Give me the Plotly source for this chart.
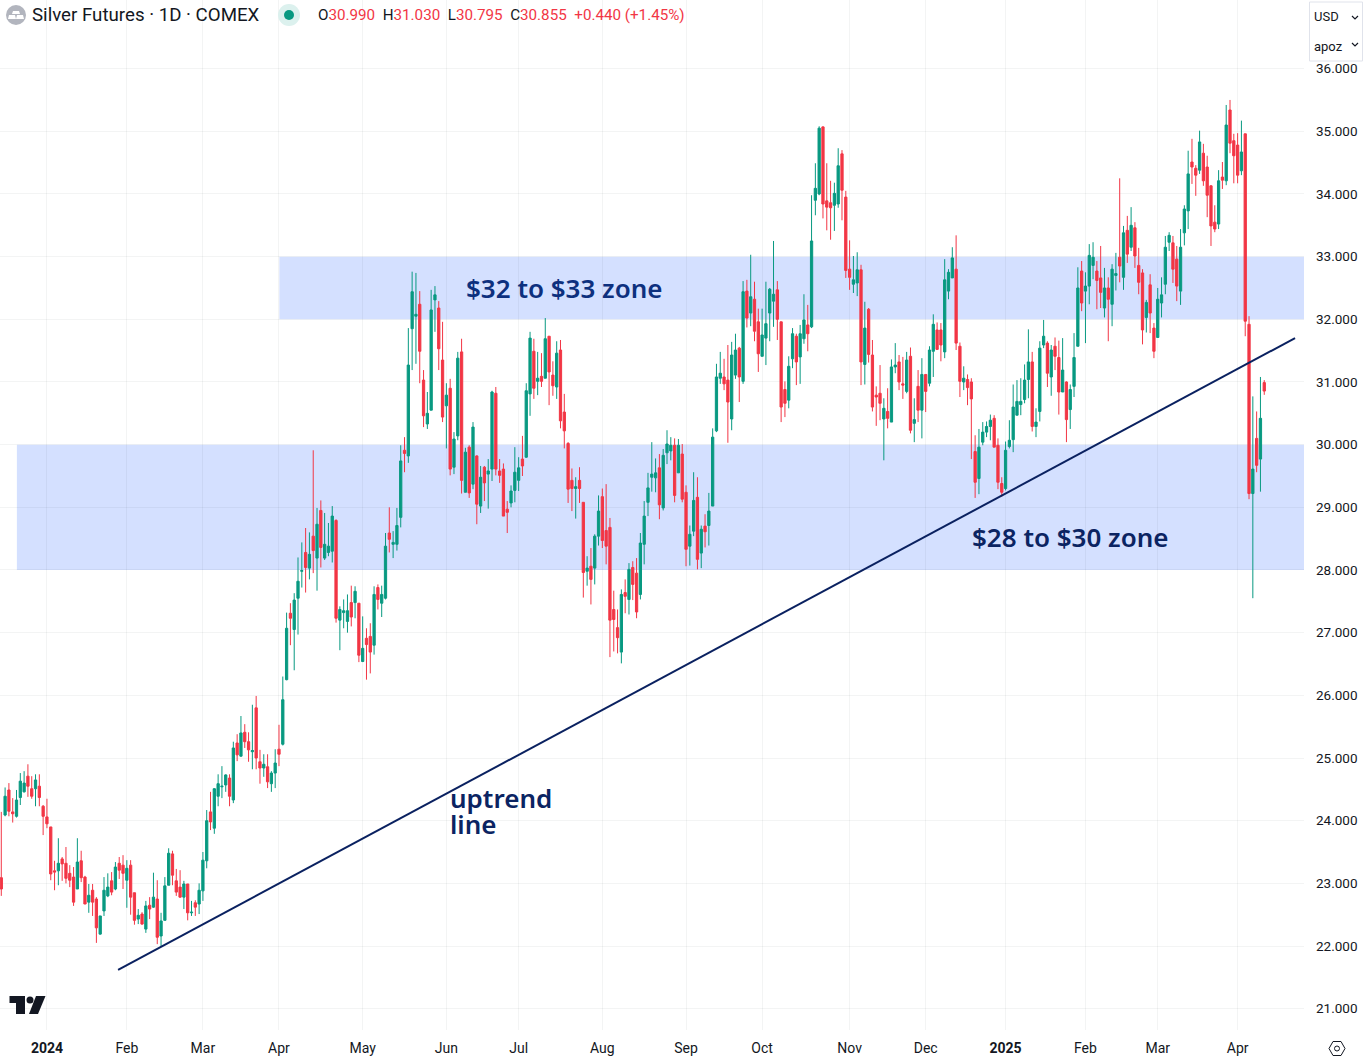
import plotly.graph_objects as go

# silver futures daily candles
opens = [
    23.09,24.09,24.49,24.14,24.07,24.37,24.46,24.71,24.51,24.51,
    24.55,24.23,24.06,23.90,23.20,23.20,23.39,23.32,23.16,23.10,
    22.91,23.36,23.10,22.70,22.89,22.75,22.19,22.56,22.80,23.04,
    22.91,23.32,23.29,23.05,23.29,22.85,22.43,22.51,22.27,22.65,
    22.62,22.75,22.16,22.41,22.97,23.47,23.04,22.94,22.78,22.99,
    22.53,22.69,22.67,22.88,23.36,24.14,23.88,24.39,24.54,24.57,
    24.68,24.33,25.24,25.03,25.41,25.26,25.10,25.80,24.94,24.84,
    24.86,24.59,24.76,25.14,25.22,
    26.25,27.31,27.05,27.55,27.98,28.28,28.03,28.54,28.19,28.95,
    28.19,28.28,28.30,28.79,27.20,27.32,27.18,27.48,27.48,27.47,
    26.54,26.91,26.94,26.80,27.72,27.47,27.55,28.59,28.41,28.41,
    28.84,29.91,29.82,31.85,32.05,32.24,31.03,30.33,30.55,32.31,
    32.18,31.35,30.62,30.90,29.64,30.14,31.48,29.24,29.96,29.37,
    29.82,29.02,29.64,29.53,29.61,30.82,29.58,29.61,28.97,29.07,
    29.27,29.43,29.77,29.80,30.81,31.49,31.01,31.09,31.06,31.73,
    31.11,30.92,31.51,30.52,30.02,
    29.43,29.30,29.43,29.08,27.98,28.06,28.03,28.54,29.17,28.63,
    28.68,27.37,27.08,26.69,27.64,27.53,28.04,27.95,27.61,28.41,
    29.08,29.48,29.47,29.63,28.99,29.87,29.90,29.99,29.55,29.85,
    29.24,28.38,28.62,29.16,28.27,28.70,28.71,29.02,30.22,31.06,
    31.08,31.03,30.41,31.11,31.54,31.01,32.45,32.10,32.32,31.96,
    31.41,31.70,32.10,32.29,32.47,31.96,30.88,30.71,31.37,31.73,
    31.40,31.69,31.91,
    31.88,33.90,34.00,35.07,33.89,33.86,33.82,33.84,34.64,33.95,
    32.80,32.56,32.58,32.79,31.28,32.16,31.43,30.79,30.82,30.41,
    30.53,30.36,31.24,31.32,30.97,30.85,31.41,30.34,30.93,30.55,
    31.12,30.98,31.49,31.83,31.83,31.48,32.45,32.66,32.80,31.57,
    31.00,31.04,31.00,29.89,29.46,30.04,30.20,30.29,30.42,29.99,
    29.38,29.30,29.97,30.08,30.47,30.64,30.72,31.04,31.32,30.29,
    30.53,31.59,31.62,31.08,31.57,31.39,
    30.84,31.00,30.56,30.93,31.57,32.77,32.45,32.53,32.86,32.77,
    32.66,32.18,32.50,32.24,32.70,32.99,32.67,33.42,33.15,33.46,
    32.86,32.74,32.03,32.55,31.86,31.71,32.26,32.56,33.23,33.22,
    32.96,32.45,33.38,33.73,34.51,34.41,34.38,34.65,34.43,34.13,
    33.55,33.52,34.27,34.21,35.34,34.85,34.78,34.37,34.96,31.92,
    29.22,30.10,29.77,30.99,
]
highs = [
    24.14,24.53,24.60,24.36,24.49,24.76,24.79,24.90,24.71,24.74,
    24.74,24.25,24.35,23.90,23.36,23.72,23.42,23.58,23.29,23.26,
    23.72,23.52,23.12,22.99,22.99,22.78,22.48,23.10,23.16,23.18,
    23.34,23.42,23.45,23.37,23.37,22.85,22.59,22.54,22.72,22.78,
    23.17,23.05,22.53,23.10,23.56,23.52,23.23,23.21,23.04,22.99,
    22.72,22.73,23.00,23.50,24.17,24.46,24.52,24.74,24.87,24.74,
    24.74,25.26,25.38,25.67,25.54,25.41,25.85,25.99,25.13,25.06,
    25.06,24.79,25.14,25.53,26.30,
    27.32,27.47,27.63,28.20,28.44,28.67,28.60,29.91,28.99,29.11,
    28.91,28.75,29.02,28.81,27.42,27.53,27.61,27.75,27.74,27.47,
    27.26,27.07,27.15,27.74,27.77,27.75,28.59,29.00,28.62,28.99,
    29.99,30.12,31.86,32.76,32.74,32.45,31.19,30.84,32.47,32.53,
    32.29,31.96,30.98,31.05,30.20,31.48,31.69,29.95,29.99,30.36,
    29.83,29.66,29.66,29.77,30.86,30.92,29.77,29.70,29.10,29.35,
    29.96,29.80,30.14,30.98,31.80,31.69,31.48,31.46,32.02,31.73,
    31.33,31.65,31.67,30.81,30.04,
    29.62,29.48,29.64,29.08,28.22,28.35,28.57,29.19,29.30,29.37,
    28.83,27.67,27.37,27.69,27.85,28.11,28.14,28.19,28.59,29.10,
    29.55,30.04,29.78,29.85,29.93,30.23,30.12,30.10,30.09,30.01,
    29.35,28.71,29.56,29.48,28.71,28.89,29.23,30.26,31.29,31.48,
    31.37,31.59,31.64,31.77,31.56,32.61,32.63,33.03,32.60,32.17,
    32.17,32.60,32.50,33.25,32.61,31.96,31.01,31.41,31.86,31.77,
    31.91,32.40,32.23,
    33.98,34.49,35.08,35.08,34.49,34.21,34.18,34.73,34.70,34.05,
    33.26,33.01,33.07,32.87,32.28,32.18,31.67,30.93,31.27,30.74,
    30.90,31.36,31.62,31.43,31.40,31.48,31.55,30.74,31.19,31.38,
    31.12,31.57,32.08,31.95,31.94,32.96,32.80,33.15,33.34,31.63,
    31.25,31.12,31.06,30.15,30.25,30.36,30.37,30.48,30.47,30.10,
    29.48,30.05,30.39,30.96,31.03,31.06,31.28,31.84,31.48,30.58,
    31.65,31.99,31.65,31.59,31.71,31.66,
    31.70,31.01,30.96,31.78,32.83,32.93,32.75,33.20,33.23,32.93,
    33.17,32.82,32.67,32.88,33.06,34.25,33.49,33.65,33.79,33.55,
    33.14,32.80,32.31,32.72,31.94,32.50,32.67,33.33,33.39,33.33,
    33.17,33.44,33.82,34.69,34.88,34.46,35.01,34.80,34.61,34.14,
    33.82,34.38,34.51,35.42,35.50,34.96,34.97,35.17,34.96,32.05,
    30.77,30.53,31.08,31.03,
]
lows = [
    22.80,24.07,24.07,23.97,24.05,24.25,24.45,24.38,24.35,24.23,
    24.23,23.77,23.88,23.05,22.89,22.97,23.04,23.00,22.94,22.64,
    22.91,23.02,22.67,22.53,22.48,22.05,22.18,22.48,22.78,22.81,
    22.89,23.07,22.91,22.61,22.50,22.34,22.35,22.34,22.21,22.43,
    22.61,22.03,22.00,22.41,22.97,22.97,22.80,22.77,22.59,22.41,
    22.48,22.48,22.51,22.72,23.24,23.85,23.79,24.23,24.36,24.46,
    24.23,24.28,24.95,25.02,25.16,24.94,24.82,24.82,24.59,24.70,
    24.52,24.46,24.52,24.87,25.20,
    26.24,26.80,26.40,26.97,27.72,27.64,27.85,27.95,27.67,28.04,
    28.16,28.22,28.12,27.16,26.72,27.07,27.00,27.10,27.23,26.53,
    26.53,26.25,26.35,26.65,27.37,27.25,27.53,28.28,28.19,28.31,
    28.68,29.56,29.71,31.19,31.29,30.98,30.28,30.25,30.55,31.80,
    31.19,30.36,29.94,29.51,29.53,30.07,29.22,29.24,29.15,29.29,
    28.73,28.91,29.10,28.98,29.42,29.51,29.39,28.86,28.59,29.00,
    29.08,29.26,29.50,29.79,30.46,30.73,30.79,30.92,31.06,30.63,
    30.78,30.73,30.26,29.94,29.07,
    28.94,28.82,29.07,27.56,27.75,27.45,27.77,28.39,28.35,28.09,
    26.61,26.70,26.67,26.51,27.31,27.29,27.52,27.23,27.53,28.09,
    28.86,29.25,29.24,28.81,28.95,29.69,29.75,29.08,29.55,29.08,
    28.06,28.07,28.54,28.01,28.03,28.36,28.39,29.02,30.20,30.97,
    30.87,30.03,30.23,31.05,30.68,30.97,31.87,31.89,31.65,31.16,
    31.41,31.27,31.65,31.88,31.67,30.36,30.44,30.58,31.22,30.95,
    30.97,31.61,31.49,
    31.86,33.66,33.98,33.61,33.42,33.27,33.41,33.78,33.58,32.66,
    32.47,32.42,32.37,30.95,30.96,31.31,30.53,30.30,30.39,29.75,
    30.26,30.36,31.14,30.87,30.73,30.82,30.18,30.04,30.36,30.10,
    30.52,30.93,31.08,31.51,31.33,31.38,32.32,32.66,31.51,30.76,
    30.87,30.63,29.77,29.15,29.21,29.99,30.12,30.07,29.96,29.29,
    29.17,29.27,29.94,29.88,30.47,30.47,30.66,30.74,30.21,30.12,
    30.37,31.54,30.92,30.78,31.19,30.48,
    30.84,30.04,30.25,30.76,31.57,32.13,31.62,32.24,32.64,32.16,
    32.18,32.03,31.65,31.89,32.46,32.59,32.47,32.90,33.09,32.82,
    32.40,31.60,31.79,31.78,31.38,31.71,32.03,32.40,33.09,32.58,
    32.29,32.23,33.18,33.44,34.16,33.97,34.32,34.13,33.63,33.17,
    33.39,33.44,34.08,34.14,34.65,34.17,34.17,34.30,31.73,29.13,
    27.55,29.56,29.25,30.795,
]
closes = [
    22.91,24.39,24.15,24.11,24.33,24.63,24.60,24.55,24.39,24.65,
    24.37,24.07,23.95,23.15,23.18,23.32,23.31,23.08,23.05,22.70,
    23.34,23.09,22.67,22.81,22.70,22.29,22.48,22.89,22.94,22.86,
    23.26,23.21,23.16,23.24,22.78,22.41,22.49,22.35,22.64,22.59,
    22.78,22.14,22.40,22.96,23.48,23.13,22.86,22.78,22.99,22.53,
    22.54,22.62,22.89,23.37,24.00,23.98,24.51,24.59,24.55,24.73,
    24.39,25.16,25.05,25.40,25.26,25.13,25.12,25.00,24.84,24.90,
    24.62,24.76,24.92,25.06,25.93,
    27.07,27.23,27.52,27.82,27.99,28.04,28.25,28.31,28.73,28.36,
    28.41,28.38,28.86,27.23,27.37,27.35,27.35,27.25,27.66,26.64,
    26.75,26.81,26.69,27.61,27.53,27.61,28.38,28.49,28.44,28.71,
    29.74,29.86,31.27,32.44,32.08,31.49,30.46,30.50,32.15,32.39,
    31.53,30.44,30.79,29.61,30.09,31.38,29.43,29.88,29.23,30.28,
    29.05,29.48,29.39,29.58,30.84,29.61,29.51,28.86,28.92,29.26,
    29.56,29.63,29.66,30.86,31.70,30.90,31.06,31.01,31.69,31.16,
    30.94,31.46,30.38,30.22,29.29,
    29.30,29.33,29.30,27.96,28.03,27.85,28.54,28.94,28.47,28.38,
    27.20,27.21,26.92,27.61,27.58,28.01,27.77,27.33,28.43,28.86,
    29.31,29.53,29.55,29.04,29.83,30.01,29.99,29.19,29.99,29.13,
    28.33,28.57,29.11,28.17,28.65,28.61,28.94,30.12,31.08,31.14,
    30.97,30.68,31.43,31.51,31.08,32.44,32.02,32.36,31.81,31.45,
    31.75,31.93,32.48,32.40,32.00,30.60,30.66,31.25,31.77,31.32,
    31.77,31.99,31.77,
    33.25,34.09,35.05,33.84,33.79,33.78,34.01,34.45,34.06,32.78,
    32.67,32.63,32.79,31.32,31.86,31.44,30.60,30.76,30.66,30.58,
    30.42,31.24,31.27,31.00,30.95,31.35,30.23,30.40,30.55,31.12,
    30.85,31.51,31.92,31.52,31.59,32.63,32.75,32.98,31.62,31.01,
    31.06,30.91,30.73,29.40,29.96,30.20,30.29,30.39,29.96,29.40,
    29.24,29.91,30.07,30.60,30.69,30.69,31.03,31.32,30.29,30.36,
    31.54,31.73,31.14,31.51,31.41,30.84,
    31.19,30.40,30.88,31.39,32.50,32.26,32.53,33.02,32.99,32.62,
    32.43,32.50,32.32,32.80,32.73,32.85,33.38,33.04,33.50,33.01,
    32.59,31.83,32.27,32.10,31.49,32.32,32.39,33.15,33.34,32.80,
    32.53,33.15,33.76,34.32,34.43,34.30,34.83,34.21,33.98,33.49,
    33.44,34.21,34.22,35.10,34.81,34.61,34.30,34.67,31.97,29.22,
    29.61,29.67,30.42,30.855,
]
bars = list(range(len(opens)))

month_bars = [12, 33, 53, 73, 95, 117, 136, 158, 180, 200, 223, 243, 264, 285, 304, 325]
month_labels = ["<b>2024</b>", "Feb", "Mar", "Apr", "May", "Jun", "Jul", "Aug", "Sep", "Oct",
                "Nov", "Dec", "<b>2025</b>", "Feb", "Mar", "Apr"]
price_ticks = list(range(21, 37))
price_labels = [f"{p}.000" for p in price_ticks]

# drawn on top of the chart
trend_bars = [30.7, 340.1]
trend_prices = [21.62, 31.70]

W, H = 1366, 1058
PLOT_W, PLOT_H = 1304, 1030
GRID = "rgba(42,46,57,0.055)"
TEXT = "#131722"
RED = "#f23645"
GREEN = "#089981"
NAVY = "#0b2462"
FONT = "Roboto"


def px(x):
    return x / PLOT_W


def py(y):
    return 1 - y / PLOT_H


def path(points):
    return "M " + " L ".join(f"{px(x)} {py(y)}" for x, y in points) + " Z"


def polyline(points):
    return "M " + " L ".join(f"{px(x)} {py(y)}" for x, y in points)


def label(x, y, text, size, color=TEXT, family=FONT, weight="normal"):
    fig.add_annotation(xref="paper", yref="paper", x=px(x), y=py(y), text=text, showarrow=False,
                       xanchor="left", yanchor="middle", align="left",
                       font=dict(size=size, color=color, family=family, weight=weight), borderpad=0, borderwidth=0)


fig = go.Figure()
fig.add_trace(go.Candlestick(
    x=bars, open=opens, high=highs, low=lows, close=closes,
    increasing=dict(line=dict(color=GREEN, width=1), fillcolor=GREEN),
    decreasing=dict(line=dict(color=RED, width=1), fillcolor=RED),
    whiskerwidth=0, showlegend=False,
))
fig.add_trace(go.Scatter(x=trend_bars, y=trend_prices, mode="lines",
                         line=dict(color="#0a2160", width=2), showlegend=False))

# support / resistance zones
fig.add_shape(type="rect", xref="x", yref="y", x0=73.1, x1=342.5, y0=32, y1=33, layer="below",
              fillcolor="rgba(41,98,255,0.2)", line_width=0)
fig.add_shape(type="rect", xref="x", yref="y", x0=4.1, x1=342.5, y0=28, y1=30, layer="below",
              fillcolor="rgba(41,98,255,0.2)", line_width=0)

fig.update_layout(
    width=W, height=H,
    margin=dict(l=0, r=W - PLOT_W, t=0, b=H - PLOT_H, pad=0),
    paper_bgcolor="white", plot_bgcolor="white",
    showlegend=False, boxgap=0.15,
    font=dict(family=FONT, size=13, color=TEXT),
    xaxis=dict(range=[-0.34, 342.45], rangeslider=dict(visible=False), tickmode="array",
               tickvals=month_bars, ticktext=month_labels, showgrid=True, gridcolor=GRID,
               gridwidth=1, zeroline=False, showline=False, ticks="", tickfont=dict(size=14, color=TEXT),
               ticklabelstandoff=8),
    yaxis=dict(range=[20.66, 37.095], side="right", tickmode="array", tickvals=price_ticks,
               ticktext=price_labels, showgrid=True, gridcolor=GRID, gridwidth=1, zeroline=False,
               showline=False, ticks="", tickfont=dict(size=13.5, color=TEXT), ticklabelstandoff=11),
)

# zone and trend labels
label(466, 288, "$32 to $33 zone", 26, "#0d307e", "Noto Sans", 600)
label(972, 537, "$28 to $30 zone", 26, NAVY, "Noto Sans", 600)
label(450, 798, "uptrend", 26, NAVY, "Noto Sans", 600)
label(450, 824, "line", 26, NAVY, "Noto Sans", 600)

# legend line at the top
fig.add_shape(type="circle", xref="paper", yref="paper", x0=px(6), x1=px(26), y0=py(25), y1=py(5),
              fillcolor="#b2b5be", line_width=0)
for pts in ([(13, 11), (19, 11), (20, 14), (12, 14)], [(9, 15), (15, 15), (16, 19), (8, 19)],
            [(17, 15), (23, 15), (24, 19), (16, 19)]):
    fig.add_shape(type="path", xref="paper", yref="paper", path=path(pts), fillcolor="white", line_width=0)
label(32, 15, "Silver Futures · 1D · COMEX", 18.7)
fig.add_shape(type="circle", xref="paper", yref="paper", x0=px(278), x1=px(300), y0=py(26), y1=py(4),
              fillcolor="#dcf1ee", line_width=0)
fig.add_shape(type="circle", xref="paper", yref="paper", x0=px(284), x1=px(294), y0=py(20), y1=py(10),
              fillcolor=GREEN, line_width=0)
red = lambda s: f'<span style="color:{RED}">{s}</span>'
label(318, 15, "O" + red("30.990") + "  H" + red("31.030") + "  L" + red("30.795") + "  C" + red("30.855")
      + "  " + red("+0.440 (+1.45%)"), 15.2)

# currency / unit box
fig.add_shape(type="rect", xref="paper", yref="paper", x0=px(1309.5), x1=px(1362.5), y0=py(61), y1=py(2),
              fillcolor="white", line=dict(color="#e0e3eb", width=1), layer="above")
label(1314, 17, "USD", 13)
label(1314, 47, "apoz", 13)
for y in (17, 44):
    fig.add_shape(type="path", xref="paper", yref="paper", path=polyline([(1352, y - 1), (1355, y + 2), (1358, y - 1)]),
                  line=dict(color=TEXT, width=1.2))

# TradingView mark
fig.add_shape(type="path", xref="paper", yref="paper",
              path=path([(9.5, 996), (25, 996), (25, 1014), (16, 1014), (16, 1003), (9.5, 1003)]),
              fillcolor="#131722", line_width=0)
fig.add_shape(type="circle", xref="paper", yref="paper", x0=px(26.5), x1=px(33.5), y0=py(1003.5), y1=py(996.5),
              fillcolor="#131722", line_width=0)
fig.add_shape(type="path", xref="paper", yref="paper",
              path=path([(36, 996), (45.5, 996), (38, 1014), (29, 1014)]), fillcolor="#131722", line_width=0)

# settings gear in the corner
fig.add_shape(type="path", xref="paper", yref="paper",
              path=path([(1329, 1048.5), (1333, 1041.5), (1341, 1041.5), (1345, 1048.5), (1341, 1055.5), (1333, 1055.5)]),
              fillcolor="white", line=dict(color=TEXT, width=1))
fig.add_shape(type="circle", xref="paper", yref="paper", x0=px(1334.5), x1=px(1339.5), y0=py(1051), y1=py(1046),
              fillcolor="white", line=dict(color=TEXT, width=1))

fig.write_html("out.html", config=dict(displayModeBar=False),
               post_script="document.body.style.margin='0';document.body.style.overflow='hidden';")
